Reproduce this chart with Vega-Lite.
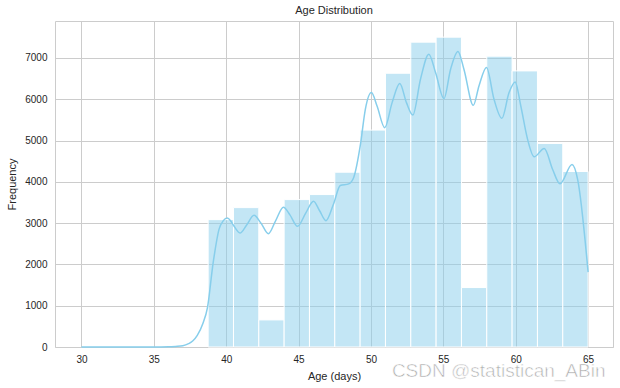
{
  "$schema": "https://vega.github.io/schema/vega-lite/v6.json",
  "width": 558,
  "height": 326,
  "autosize": {"type": "none"},
  "padding": {"left": 55, "top": 21, "right": 7, "bottom": 41},
  "background": "white",
  "title": {"text": "Age Distribution", "fontSize": 11, "fontWeight": "normal", "font": "Liberation Sans", "color": "#262626", "offset": 5},
  "config": {
    "view": {"stroke": "#cccccc", "strokeWidth": 1},
    "axis": {
      "grid": true, "gridColor": "#cccccc", "gridWidth": 1,
      "domain": false, "ticks": false,
      "labelFont": "Liberation Sans", "labelFontSize": 10, "labelColor": "#262626",
      "titleFont": "Liberation Sans", "titleFontSize": 11, "titleFontWeight": "normal", "titleColor": "#262626"
    }
  },
  "datasets": {
    "bins": [
      {"age": 38.75, "age_end": 40.5, "count": 3085},
      {"age": 40.5, "age_end": 42.25, "count": 3376},
      {"age": 42.25, "age_end": 44.0, "count": 656},
      {"age": 44.0, "age_end": 45.75, "count": 3570},
      {"age": 45.75, "age_end": 47.5, "count": 3692},
      {"age": 47.5, "age_end": 49.25, "count": 4234},
      {"age": 49.25, "age_end": 51.0, "count": 5254},
      {"age": 51.0, "age_end": 52.75, "count": 6631},
      {"age": 52.75, "age_end": 54.5, "count": 7384},
      {"age": 54.5, "age_end": 56.25, "count": 7505},
      {"age": 56.25, "age_end": 58.0, "count": 1440},
      {"age": 58.0, "age_end": 59.75, "count": 7044},
      {"age": 59.75, "age_end": 61.5, "count": 6687},
      {"age": 61.5, "age_end": 63.25, "count": 4931},
      {"age": 63.25, "age_end": 65.0, "count": 4251}
    ],
    "kde": [
      {"age": 30.0, "count": 0}, {"age": 32.0, "count": 0}, {"age": 34.0, "count": 0},
      {"age": 35.0, "count": 0}, {"age": 36.0, "count": 5}, {"age": 36.5, "count": 15},
      {"age": 37.0, "count": 30}, {"age": 37.4, "count": 80}, {"age": 37.7, "count": 150},
      {"age": 38.0, "count": 280}, {"age": 38.4, "count": 580}, {"age": 38.7, "count": 950},
      {"age": 39.1, "count": 2050}, {"age": 39.5, "count": 2850}, {"age": 39.8, "count": 3060},
      {"age": 40.07, "count": 3125}, {"age": 40.3, "count": 3060}, {"age": 40.5, "count": 2950},
      {"age": 40.95, "count": 2760}, {"age": 41.4, "count": 2950}, {"age": 41.92, "count": 3190},
      {"age": 42.4, "count": 3000}, {"age": 42.91, "count": 2745}, {"age": 43.4, "count": 3050},
      {"age": 43.95, "count": 3384}, {"age": 44.4, "count": 3200}, {"age": 44.92, "count": 2922},
      {"age": 45.5, "count": 3250}, {"age": 46.03, "count": 3530}, {"age": 46.45, "count": 3300},
      {"age": 46.89, "count": 3060}, {"age": 47.4, "count": 3450}, {"age": 47.88, "count": 3910},
      {"age": 48.46, "count": 3950}, {"age": 48.8, "count": 4100}, {"age": 49.27, "count": 4900},
      {"age": 49.61, "count": 5757}, {"age": 50.03, "count": 6162}, {"age": 50.42, "count": 5837},
      {"age": 50.95, "count": 5312}, {"age": 51.46, "count": 5919}, {"age": 51.99, "count": 6381},
      {"age": 52.45, "count": 5919}, {"age": 52.89, "count": 5618}, {"age": 53.42, "count": 6485},
      {"age": 54.0, "count": 7093}, {"age": 54.46, "count": 6648}, {"age": 55.04, "count": 6016},
      {"age": 55.5, "count": 6728}, {"age": 56.01, "count": 7158}, {"age": 56.42, "count": 6728},
      {"age": 57.07, "count": 5853}, {"age": 57.46, "count": 6322}, {"age": 57.98, "count": 6770},
      {"age": 58.5, "count": 6000}, {"age": 59.04, "count": 5538}, {"age": 59.54, "count": 6162},
      {"age": 59.96, "count": 6420}, {"age": 60.35, "count": 5837}, {"age": 60.82, "count": 5028},
      {"age": 61.27, "count": 4608}, {"age": 61.97, "count": 4809}, {"age": 62.55, "count": 4299},
      {"age": 63.06, "count": 3952}, {"age": 63.89, "count": 4421}, {"age": 64.28, "count": 4056},
      {"age": 65.0, "count": 1814}
    ],
    "mark": [
      {"age": 66.2, "count": -729, "label": "CSDN @statistican_ABin"}
    ]
  },
  "layer": [
    {
      "data": {"name": "bins"},
      "mark": {"type": "rect", "fill": "#87ceeb", "fillOpacity": 0.5, "stroke": "white", "strokeWidth": 1},
      "encoding": {
        "x": {"field": "age", "type": "quantitative", "title": "Age (days)",
              "scale": {"domain": [28.17, 66.72], "nice": false, "zero": false},
              "axis": {"values": [30, 35, 40, 45, 50, 55, 60, 65], "format": "d", "labelPadding": 7, "titlePadding": 6}},
        "x2": {"field": "age_end"},
        "y": {"field": "count", "type": "quantitative", "title": "Frequency",
              "scale": {"domain": [0, 7896], "nice": false},
              "axis": {"values": [0, 1000, 2000, 3000, 4000, 5000, 6000, 7000], "format": "d", "labelPadding": 8, "titlePadding": 7}},
        "y2": {"datum": 0}
      }
    },
    {
      "data": {"name": "kde"},
      "mark": {"type": "line", "color": "#87ceeb", "strokeWidth": 1.5, "interpolate": "monotone"},
      "encoding": {
        "x": {"field": "age", "type": "quantitative", "title": "Age (days)"},
        "y": {"field": "count", "type": "quantitative", "title": "Frequency"}
      }
    },
    {
      "data": {"name": "mark"},
      "mark": {"type": "text", "align": "right", "baseline": "alphabetic", "font": "Liberation Sans", "fontSize": 19, "fill": "#8c8c8c", "opacity": 0.7, "stroke": "white", "strokeWidth": 0.6, "clip": false},
      "encoding": {
        "x": {"field": "age", "type": "quantitative", "title": "Age (days)"},
        "y": {"field": "count", "type": "quantitative", "title": "Frequency"},
        "text": {"field": "label"}
      }
    }
  ]
}
